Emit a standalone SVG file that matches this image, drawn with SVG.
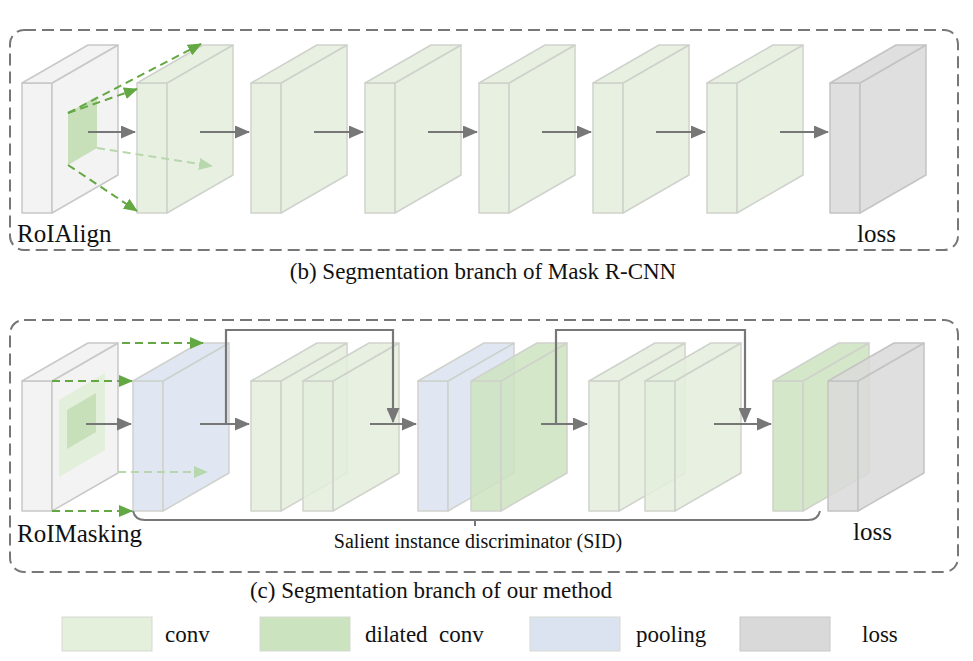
<svg xmlns="http://www.w3.org/2000/svg" width="973" height="661" viewBox="0 0 973 661" font-family="'Liberation Serif', 'Times New Roman', serif">
<style>
text{font-family:"Liberation Serif","Times New Roman",serif;fill:#111}
.frame{fill:none;stroke:#777;stroke-width:2;stroke-dasharray:12 6}
.b{stroke:#cfd2cc;stroke-width:1.5;stroke-linejoin:round}
.conv{fill:#e4efdc;fill-opacity:.85}
.dil{fill:#cce3c0;fill-opacity:.85}
.pool{fill:#dbe3f1;fill-opacity:.85}
.loss{fill:#d9d9d9;fill-opacity:.85;stroke:#c4c4c4}
.roi{fill:#f3f3f3;stroke:#c8c8c8}
.ga{stroke:#777;stroke-width:2.2;fill:none;marker-end:url(#ag)}
.gd{stroke:#63a843;stroke-width:2;fill:none;stroke-dasharray:8 5;marker-end:url(#agr)}
.gf{stroke:#b7d8ad;stroke-width:2;fill:none;stroke-dasharray:8 5;marker-end:url(#agf)}
</style>
<defs>
<marker id="ag" markerWidth="15" markerHeight="13" refX="14" refY="6.5" orient="auto" markerUnits="userSpaceOnUse" viewBox="0 0 15 13"><path d="M0,0 L15,6.5 L0,13 Z" fill="#777"/></marker>
<marker id="agr" markerWidth="14" markerHeight="12" refX="13" refY="6" orient="auto" markerUnits="userSpaceOnUse" viewBox="0 0 14 12"><path d="M0,0 L14,6 L0,12 Z" fill="#63a843"/></marker>
<marker id="agf" markerWidth="14" markerHeight="12" refX="13" refY="6" orient="auto" markerUnits="userSpaceOnUse" viewBox="0 0 14 12"><path d="M0,0 L14,6 L0,12 Z" fill="#b7d8ad"/></marker>
<g id="slab">
<path d="M0,0 L30,0 L30,130 L0,130 Z"/>
<path d="M30,0 L96,-38 L96,92 L30,130 Z"/>
<path d="M0,0 L30,0 L96,-38 L66,-38 Z"/>
</g>
</defs>
<rect class="frame" x="10" y="30" width="948" height="220" rx="14"/>
<rect class="frame" x="10" y="320" width="948" height="252" rx="14"/>

<g id="top-nodes">
<g id="roialign" class="b roi"><use href="#slab" x="22" y="83"/>
<path d="M68,113 L97,96 L97,148 L68,165 Z" style="fill:#c7e0b9;stroke:none"/></g>
<g id="t1" class="b conv"><use href="#slab" x="137" y="83"/></g>
<g id="t2" class="b conv"><use href="#slab" x="251" y="83"/></g>
<g id="t3" class="b conv"><use href="#slab" x="365" y="83"/></g>
<g id="t4" class="b conv"><use href="#slab" x="479" y="83"/></g>
<g id="t5" class="b conv"><use href="#slab" x="593" y="83"/></g>
<g id="t6" class="b conv"><use href="#slab" x="707" y="83"/></g>
<g id="tloss" class="b loss"><use href="#slab" x="830" y="83"/></g>
</g>

<g id="bottom-nodes">
<g id="roimask" class="b roi"><use href="#slab" x="22" y="381"/>
<path d="M59,400 L105,373 L105,450 L59,477 Z" style="fill:#e2efda;stroke:none"/>
<path d="M67,410 L96,393 L96,432 L67,449 Z" style="fill:#c7e0b9;stroke:none"/></g>
<g id="b1" class="b pool"><use href="#slab" x="133" y="381"/></g>
<g id="b2" class="b conv"><use href="#slab" x="251" y="381"/></g>
<g id="b3" class="b conv"><use href="#slab" x="303" y="381"/></g>
<g id="b4" class="b pool"><use href="#slab" x="418" y="381"/></g>
<g id="b5" class="b dil"><use href="#slab" x="471" y="381"/></g>
<g id="b6" class="b conv"><use href="#slab" x="589" y="381"/></g>
<g id="b7" class="b conv"><use href="#slab" x="645" y="381"/></g>
<g id="b8" class="b dil"><use href="#slab" x="773" y="381"/></g>
<g id="bloss" class="b loss"><use href="#slab" x="828" y="381"/></g>
</g>

<g id="connectors">
<path class="gd" d="M68,113 L201,44"/>
<path class="gd" d="M68,113 L137,89"/>
<path class="gf" d="M97,148 L212,166"/>
<path class="gd" d="M68,165 L137,211"/>
<path class="ga" d="M88,132 L135,132"/>
<path class="ga" d="M200,132 L249,132"/>
<path class="ga" d="M314,132 L363,132"/>
<path class="ga" d="M428,132 L477,132"/>
<path class="ga" d="M542,132 L591,132"/>
<path class="ga" d="M656,132 L705,132"/>
<path class="ga" d="M780,132 L828,132"/>

<path class="gd" d="M122,343 L203,343"/>
<path class="gd" d="M52,381 L132,381"/>
<path class="gf" d="M118,472 L207,472"/>
<path class="gd" d="M52,511 L132,511"/>
<path class="ga" d="M86,424 L131,424"/>
<path class="ga" d="M200,424 L249,424"/>
<path class="ga" d="M370,424 L416,424"/>
<path class="ga" d="M541,424 L587,424"/>
<path class="ga" d="M714,424 L771,424"/>
<path class="ga" d="M226,424 L226,330 L393,330 L393,422"/>
<path class="ga" d="M556,424 L556,330 L745,330 L745,422"/>
<path d="M133,511 Q135,520 145,520 L808,520 Q818,520 820,511 M475,520 L475,526" fill="none" stroke="#777" stroke-width="2"/>
</g>

<text x="17" y="242" font-size="25">RoIAlign</text>
<text x="857" y="242" font-size="25">loss</text>
<text x="483" y="279" font-size="23" text-anchor="middle">(b) Segmentation branch of Mask R-CNN</text>
<text x="17" y="542" font-size="25">RoIMasking</text>
<text x="853" y="540" font-size="25">loss</text>
<text x="478" y="548" font-size="20" text-anchor="middle">Salient instance discriminator (SID)</text>
<text x="431" y="598" font-size="23" text-anchor="middle">(c) Segmentation branch of our method</text>

<g id="legend">
<rect x="62" y="617" width="90" height="34" fill="#e4efdc" stroke="#d5d9d2"/>
<text x="165" y="642" font-size="23">conv</text>
<rect x="260" y="617" width="90" height="34" fill="#cce3c0" stroke="#d5d9d2"/>
<text x="365" y="642" font-size="23" xml:space="preserve">dilated  conv</text>
<rect x="530" y="617" width="90" height="34" fill="#dbe3f1" stroke="#d5d9d2"/>
<text x="636" y="642" font-size="23">pooling</text>
<rect x="740" y="617" width="90" height="34" fill="#d9d9d9" stroke="#c8c8c8"/>
<text x="862" y="642" font-size="23">loss</text>
</g>
</svg>
